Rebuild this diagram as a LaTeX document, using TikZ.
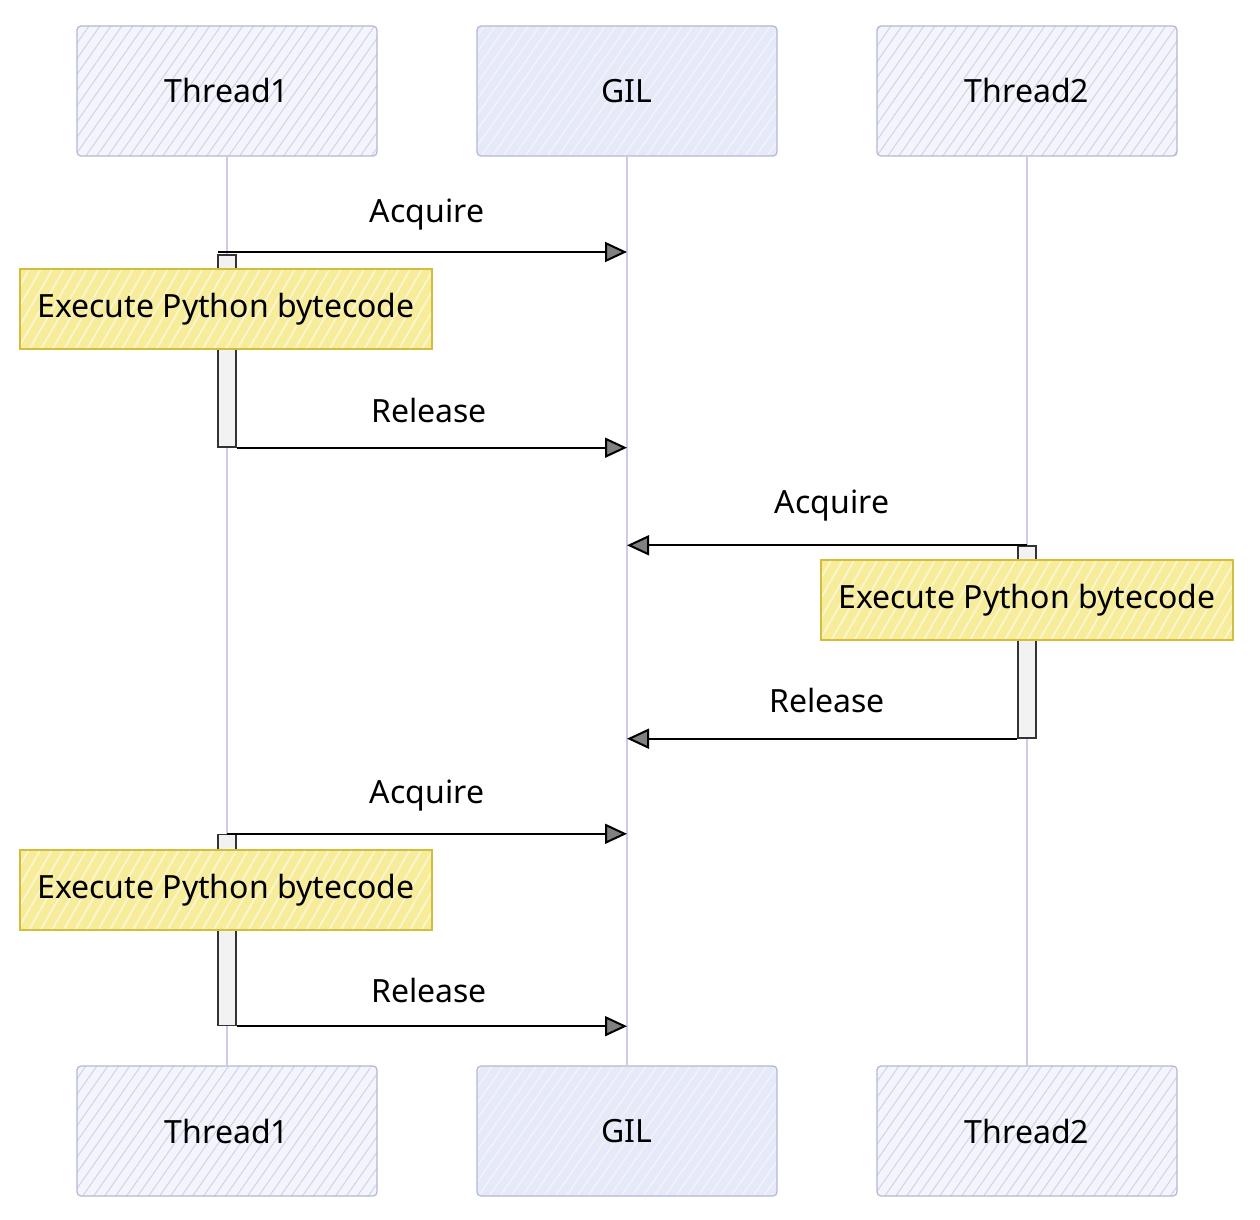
\documentclass[tikz,border=0pt]{standalone}
\usepackage{fontspec}
\setmainfont{Noto Sans}
\usetikzlibrary{arrows.meta,patterns.meta}

\definecolor{lifecol}{HTML}{C9CBE8}
\definecolor{partfill}{HTML}{E6E9F8}
\definecolor{partline}{HTML}{B4B8D4}
\definecolor{notefill}{HTML}{F7EC9A}
\definecolor{noteline}{HTML}{D2BE3C}

\tikzstyle{participant} = [draw=partline, line width=0.6pt, rounded corners=2pt,
	minimum width=150pt, minimum height=65pt, font=\fontsize{16}{19}\selectfont,
	pattern={Lines[angle=55,distance=4.5pt,line width=0.5pt]}]
\tikzstyle{threadbox} = [participant, preaction={fill=partfill!45!white}, pattern color=partfill!55!partline]
\tikzstyle{lockbox} = [participant, preaction={fill=partfill}, pattern color=white!60!partfill]
\tikzstyle{lifeline} = [draw=lifecol, line width=0.7pt]
\tikzstyle{activation} = [draw=black!80, fill=black!5, line width=0.7pt, minimum width=9pt, inner sep=0pt]
\tikzstyle{note} = [draw=noteline, line width=0.6pt, preaction={fill=notefill},
	pattern={Lines[angle=60,distance=5pt,line width=0.9pt]}, pattern color=white!55!notefill,
	minimum width=206pt, minimum height=40pt, font=\fontsize{16}{19}\selectfont]
\tikzstyle{message} = [line width=1pt, -{Triangle[length=11pt,width=10pt,fill=black!50]}]
\tikzstyle{msglabel} = [font=\fontsize{16}{19}\selectfont]

\begin{document}
\begin{tikzpicture}[x=0.5pt,y=-0.5pt]
\useasboundingbox (0,0) rectangle (1260,1220);
\fill [white] (0,0) rectangle (1260,1220);

\node [threadbox] (t1top) at (227,91) {Thread1};
\node [lockbox] (giltop) at (627,91) {GIL};
\node [threadbox] (t2top) at (1027,91) {Thread2};
\node [threadbox] (t1bot) at (227,1131) {Thread1};
\node [lockbox] (gilbot) at (627,1131) {GIL};
\node [threadbox] (t2bot) at (1027,1131) {Thread2};

\draw [lifeline] (t1top) -- (t1bot);
\draw [lifeline] (giltop) -- (gilbot);
\draw [lifeline] (t2top) -- (t2bot);

\node [activation, minimum height=96pt] (act1) at (227,351) {};
\node [activation, minimum height=96pt] (act2) at (1027,642) {};
\node [activation, minimum height=95.5pt] (act3) at (227,930) {};

\node [note] (note1) at (226,309) {Execute Python bytecode};
\node [note] (note2) at (1027,600) {Execute Python bytecode};
\node [note] (note3) at (226,890) {Execute Python bytecode};

\coordinate (acq1) at (218,252);
\draw [message] (acq1) -- (acq1 -| giltop);
\node [msglabel] (lacq1) at (427,215) {Acquire};
\draw [message] (act1.south east) -- (act1.south east -| giltop);
\node [msglabel] (lrel1) at (429,410) {Release};

\draw [message] (act2.north) -- (act2.north -| giltop);
\node [msglabel] (lacq2) at (832,506) {Acquire};
\draw [message] (act2.south west) -- (act2.south west -| giltop);
\node [msglabel] (lrel2) at (827,700) {Release};

\draw [message] (act3.north) -- (act3.north -| giltop);
\node [msglabel] (lacq3) at (427,796) {Acquire};
\draw [message] (act3.south east) -- (act3.south east -| giltop);
\node [msglabel] (lrel3) at (429,990) {Release};
\end{tikzpicture}
\end{document}
